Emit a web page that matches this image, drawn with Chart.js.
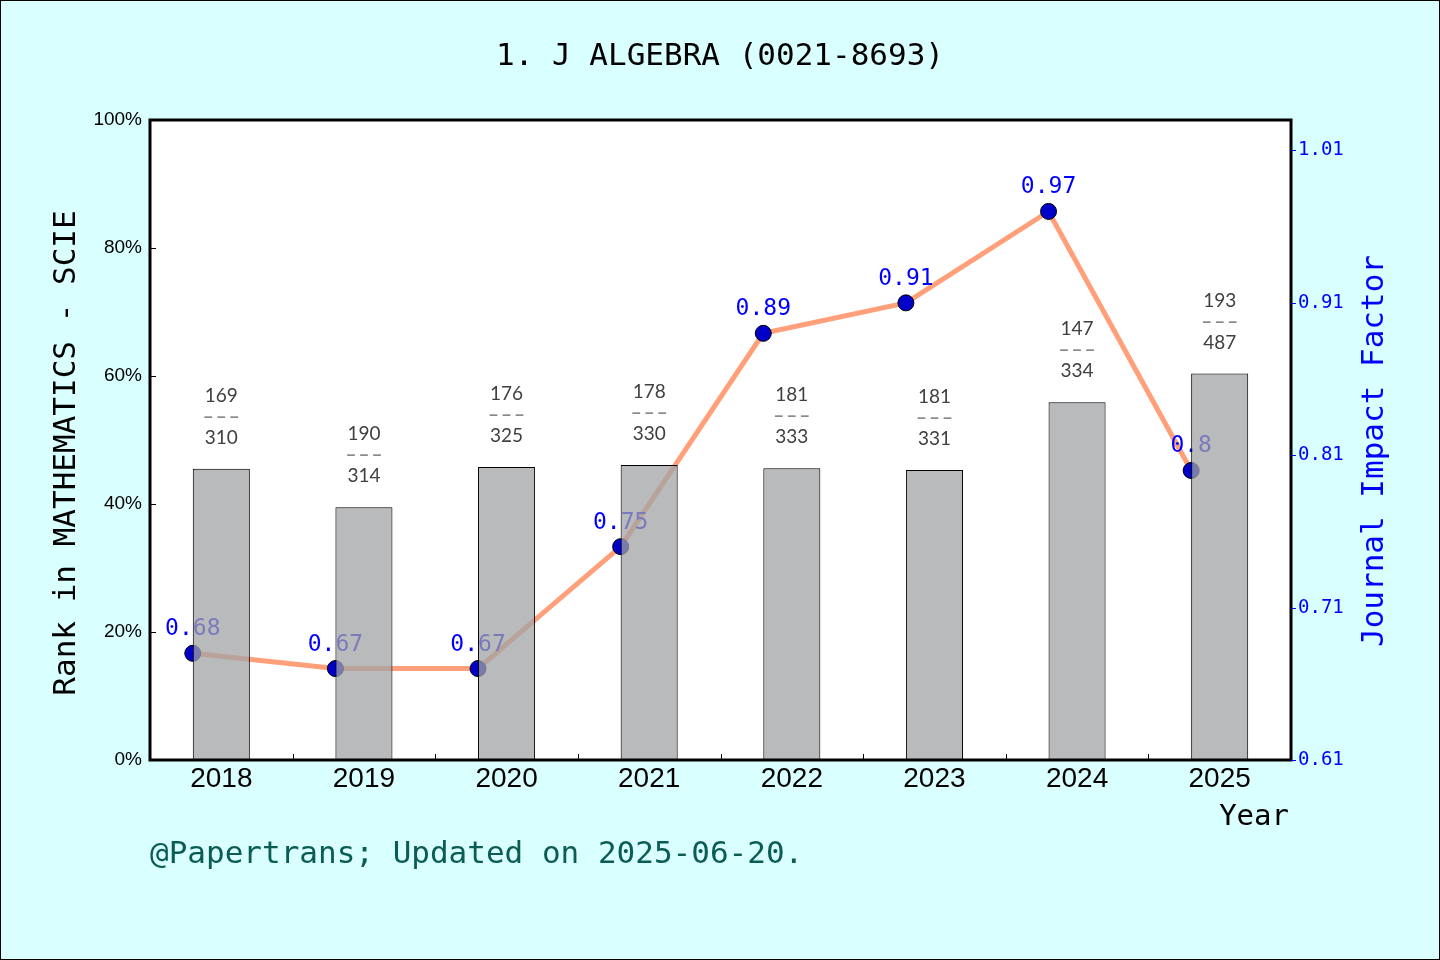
<!DOCTYPE html>
<html><head><meta charset="utf-8">
<script src="https://cdn.jsdelivr.net/npm/chart.js@4.4.1/dist/chart.umd.min.js"></script>
<style>html,body{margin:0;padding:0;background:#d9ffff;overflow:hidden} canvas{display:block;}</style>
</head><body>
<canvas id="c" width="1440" height="960" style="width:1440px;height:960px"></canvas>
<script>
const years = ['2018','2019','2020','2021','2022','2023','2024','2025'];
const rankPct = [45.5, 39.5, 45.8, 46.1, 45.6, 45.3, 55.9, 60.4];
const ranks = [169, 190, 176, 178, 181, 181, 147, 193];
const totals = [310, 314, 325, 330, 333, 331, 334, 487];
const impactFactor = [0.68, 0.67, 0.67, 0.75, 0.89, 0.91, 0.97, 0.8];
const leftTicks = [0, 20, 40, 60, 80, 100];
const rightTicks = [0.61, 0.71, 0.81, 0.91, 1.01];

const MONO = '"DejaVu Sans Mono", monospace';

const deco = {
  id: 'deco',
  beforeDraw(chart) {
    const {ctx, chartArea: a} = chart;
    ctx.save();
    ctx.fillStyle = '#d9ffff';
    ctx.fillRect(0, 0, chart.width, chart.height);
    ctx.fillStyle = '#ffffff';
    ctx.fillRect(a.left, a.top, a.right - a.left, a.bottom - a.top);
    ctx.restore();
  },
  beforeDatasetDraw(chart, args) {
    if (args.index === 1) {
      const bar = chart.getDatasetMeta(0).data[0];
      chart.ctx.save();
      chart.ctx.translate(-bar.width / 2, 0);
    }
  },
  afterDatasetDraw(chart, args) {
    if (args.index === 1) {
      const ctx = chart.ctx;
      const meta = chart.getDatasetMeta(1);
      ctx.font = '23px ' + MONO;
      ctx.fillStyle = '#0000ff';
      ctx.textAlign = 'center';
      ctx.textBaseline = 'middle';
      meta.data.forEach((p, i) => ctx.fillText(String(impactFactor[i]), p.x, p.y - 24));
      ctx.restore();
    }
  },
  afterDatasetsDraw(chart) {
    const {ctx, chartArea: a, scales} = chart;
    const bars = chart.getDatasetMeta(0).data;
    ctx.save();
    ctx.textAlign = 'center';
    ctx.textBaseline = 'middle';
    bars.forEach((b, i) => {
      ctx.font = '19px Lato, "Open Sans", sans-serif';
      ctx.fillStyle = '#404040';
      ctx.fillText(String(ranks[i]), b.x, b.y - 73);
      ctx.fillText(String(totals[i]), b.x, b.y - 31);
      ctx.save();
      ctx.font = 'bold 19px Lato, sans-serif';
      ctx.fillStyle = '#8a8a8a';
      ctx.letterSpacing = '2px';
      ctx.fillText('\u2013\u2013\u2013', b.x + 1, b.y - 52);
      ctx.restore();
    });
    // plot frame
    ctx.lineWidth = 3;
    ctx.strokeStyle = '#000';
    ctx.strokeRect(a.left, a.top, a.right - a.left, a.bottom - a.top);
    // tick marks
    ctx.lineWidth = 1;
    leftTicks.forEach(v => {
      const y = Math.round(scales.y.getPixelForValue(v)) + 0.5;
      ctx.beginPath(); ctx.moveTo(a.left, y); ctx.lineTo(a.left + 6, y); ctx.stroke();
    });
    for (let i = 1; i < years.length; i++) {
      const x = Math.round((scales.x.getPixelForValue(i - 1) + scales.x.getPixelForValue(i)) / 2) + 0.5;
      ctx.beginPath(); ctx.moveTo(x, a.bottom); ctx.lineTo(x, a.bottom - 6); ctx.stroke();
    }
    ctx.strokeStyle = '#0000ff';
    rightTicks.forEach(v => {
      const y = Math.round(scales.y2.getPixelForValue(v)) + 0.5;
      ctx.beginPath(); ctx.moveTo(a.right, y); ctx.lineTo(a.right + 5, y); ctx.stroke();
    });
    // texts
    ctx.fillStyle = '#000';
    ctx.font = '31px ' + MONO;
    ctx.fillText('1. J ALGEBRA (0021-8693)', 720, 57);
    ctx.save();
    ctx.translate(67, 453);
    ctx.rotate(-Math.PI / 2);
    ctx.fillText('Rank in MATHEMATICS - SCIE', 0, 0);
    ctx.restore();
    ctx.save();
    ctx.fillStyle = '#0000ff';
    ctx.translate(1375, 451);
    ctx.rotate(-Math.PI / 2);
    ctx.fillText('Journal Impact Factor', 0, 0);
    ctx.restore();
    ctx.textAlign = 'right';
    ctx.font = '29px ' + MONO;
    ctx.fillText('Year', 1289, 817);
    ctx.textAlign = 'left';
    ctx.font = '31px ' + MONO;
    ctx.fillStyle = '#0b5c54';
    ctx.fillText('@Papertrans; Updated on 2025-06-20.', 150, 855);
    // outer border
    ctx.lineWidth = 1;
    ctx.strokeStyle = '#000';
    ctx.strokeRect(0.5, 0.5, chart.width - 1, chart.height - 1);
    ctx.restore();
  }
};

function build() {
  new Chart(document.getElementById('c'), {
    data: {
      labels: years,
      datasets: [
        {type: 'bar', data: rankPct, yAxisID: 'y', backgroundColor: 'rgba(162,163,165,0.75)',
         borderColor: '#000', borderWidth: 1, barPercentage: 0.4, categoryPercentage: 1, order: 0},
        {type: 'line', data: impactFactor, yAxisID: 'y2', borderColor: '#ffa07a', borderWidth: 5,
         pointRadius: 8, pointBackgroundColor: '#0000c8', pointBorderColor: '#000', pointBorderWidth: 1,
         tension: 0, order: 1}
      ]
    },
    options: {
      responsive: false, animation: false, devicePixelRatio: 1,
      layout: {padding: {top: 120, left: 0, right: 0, bottom: 0}},
      plugins: {legend: {display: false}, tooltip: {enabled: false}, title: {display: false}},
      scales: {
        x: {
          offset: true,
          grid: {display: false, drawTicks: false}, border: {display: false},
          ticks: {font: {family: 'Liberation Sans', size: 28}, color: '#000', padding: 2, maxRotation: 0},
          afterFit(s) { s.height = 200; }
        },
        y: {
          position: 'left', min: 0, max: 100,
          afterBuildTicks(s) { s.ticks = leftTicks.map(v => ({value: v})); },
          ticks: {callback: v => v + '%', font: {family: 'Liberation Sans', size: 19}, color: '#000', padding: 8},
          grid: {display: false, drawTicks: false}, border: {display: false},
          afterFit(s) { s.width = 150; }
        },
        y2: {
          position: 'right', min: 0.61, max: 1.03,
          afterBuildTicks(s) { s.ticks = rightTicks.map(v => ({value: v})); },
          ticks: {callback: v => Number(v).toFixed(2), font: {family: 'DejaVu Sans Mono', size: 19}, color: '#0000ff', padding: 7},
          grid: {display: false, drawTicks: false}, border: {display: false},
          afterFit(s) { s.width = 149; }
        }
      }
    },
    plugins: [deco]
  });
}
Promise.all([
  document.fonts.load('19px Lato'),
  document.fonts.load('bold 19px Lato'),
  document.fonts.load('19px "DejaVu Sans Mono"'),
  document.fonts.load('19px "Liberation Sans"')
]).then(build, build);
</script>
</body></html>
